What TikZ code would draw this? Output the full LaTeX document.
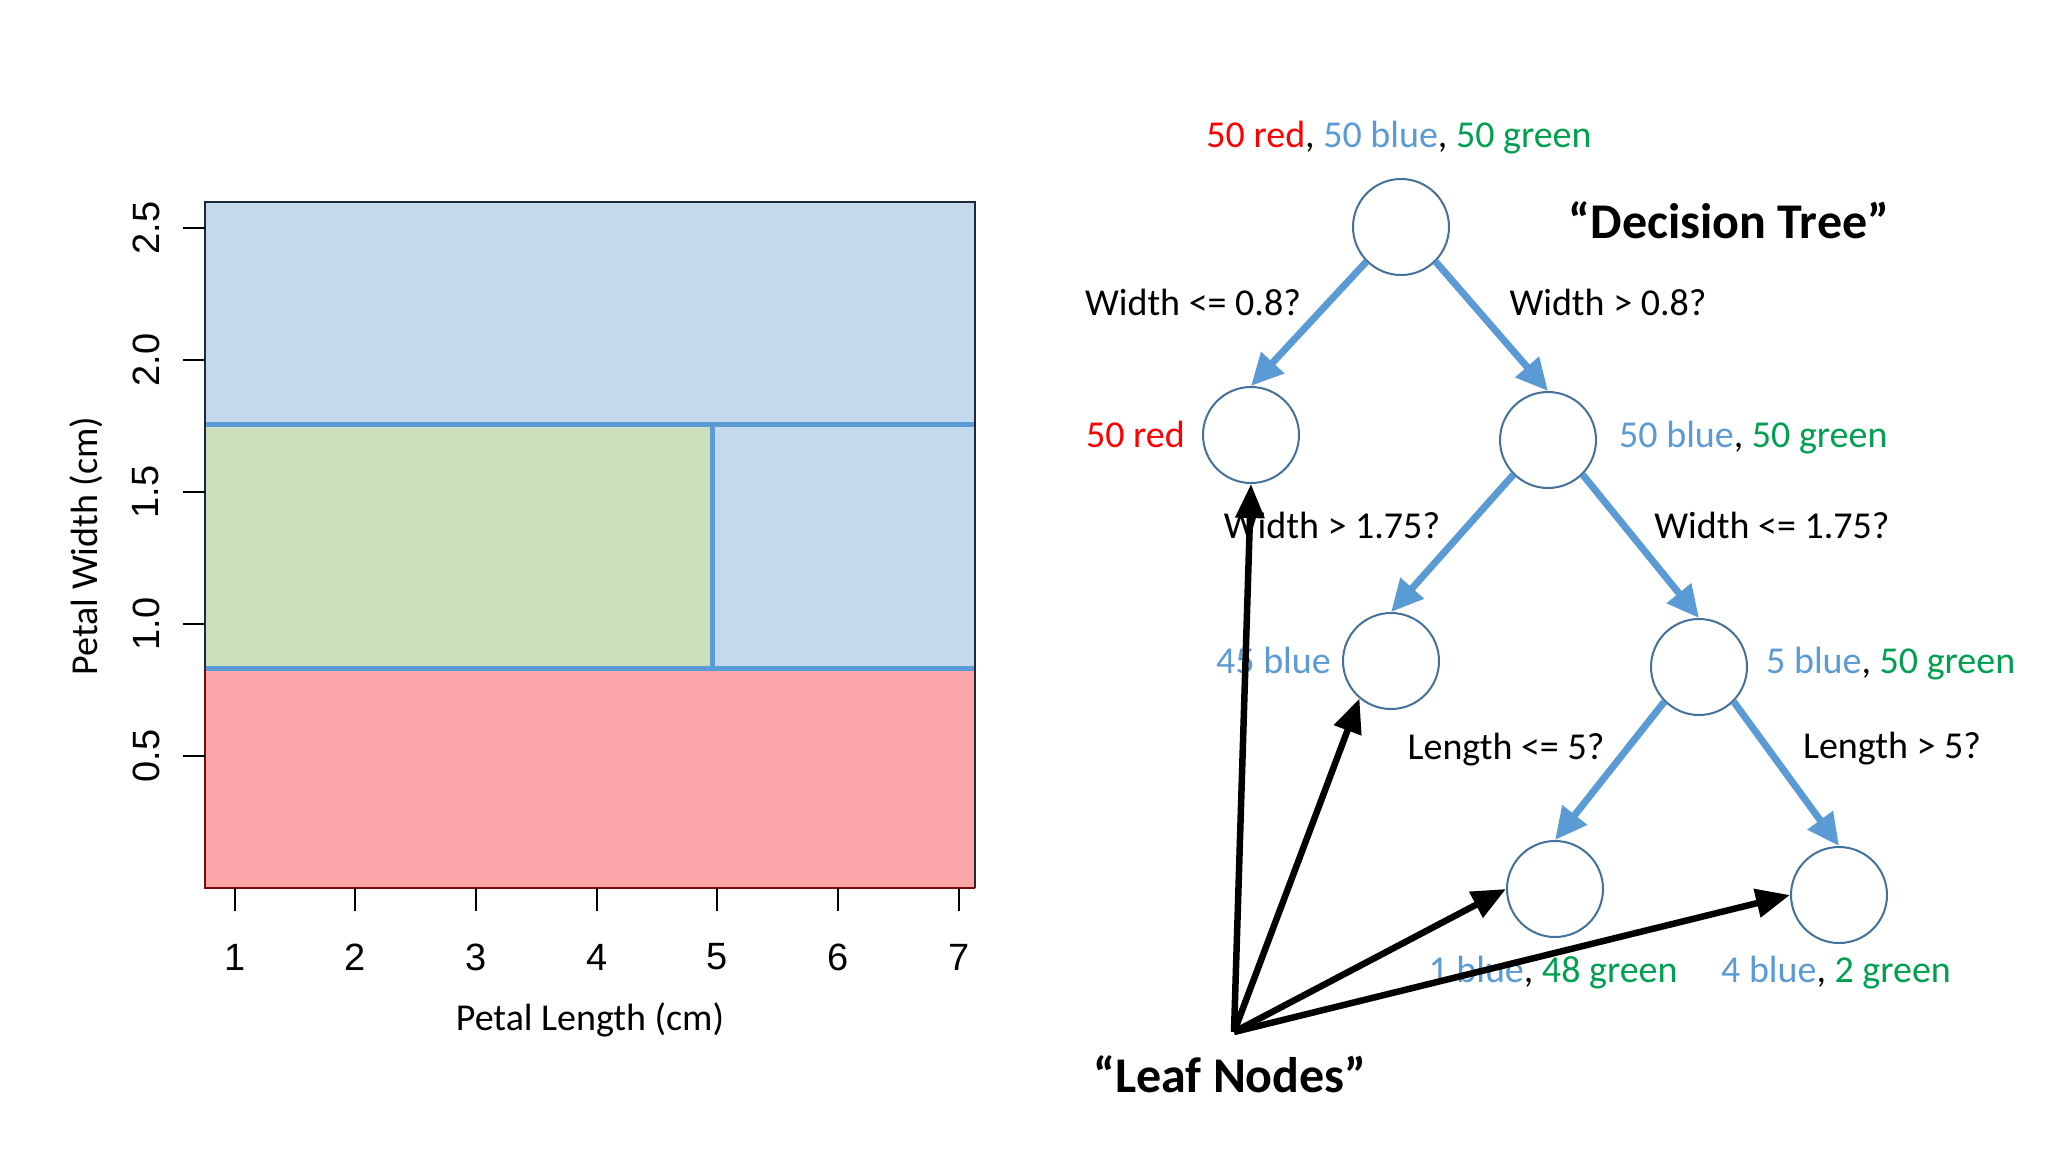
\documentclass[tikz,border=0pt]{standalone}
\usepackage{fontspec}
\setmainfont{Carlito}
\newfontfamily\axisfont{Liberation Sans}
\usetikzlibrary{arrows.meta}
\definecolor{tblue}{HTML}{5B9BD5}
\definecolor{tgreen}{HTML}{00A050}
\definecolor{tred}{HTML}{FF0000}
\definecolor{circ}{HTML}{41719C}
\definecolor{rblue}{HTML}{C5D9ED}
\definecolor{rgreen}{HTML}{CDE0BE}
\definecolor{rred}{HTML}{FBA5A8}
\definecolor{dred}{HTML}{7A0A0A}
\definecolor{framec}{HTML}{1E2A38}
\begin{document}
\begin{tikzpicture}[x=1pt,y=-1pt,
 lbl/.style={font=\fontsize{38}{46}\selectfont, inner sep=0pt, anchor=mid},
 big/.style={font=\fontsize{50}{60}\selectfont\bfseries, inner sep=0pt, anchor=mid},
 ticklbl/.style={font=\axisfont\fontsize{38}{46}\selectfont, inner sep=0pt},
 axlbl/.style={font=\fontsize{38}{46}\selectfont, inner sep=0pt},
 tnode/.style={circle, draw=circ, line width=2pt, fill=white, minimum size=96pt, inner sep=0pt},
 tedge/.style={draw=tblue, line width=7pt, -{Triangle[length=32pt,width=30pt]}},
 ledge/.style={draw=black, line width=6.5pt, -{Triangle[length=34pt,width=28pt]}},
 tickmark/.style={draw=black, line width=2pt}
]
\useasboundingbox (0,0) rectangle (2048,1152);
\fill[white] (0,0) rectangle (2048,1152);

% ---- partition plot ----
\fill[rblue] (205,202) rectangle (975,424);
\fill[rgreen] (205,424) rectangle (712,668);
\fill[rblue] (712,424) rectangle (975,668);
\fill[rred] (205,668) rectangle (975,888);
\draw[tblue, line width=5pt] (205,424) -- (975,424);
\draw[tblue, line width=5pt] (205,668) -- (975,668);
\draw[tblue, line width=5pt] (712,424) -- (712,668);
\draw[framec, line width=2pt] (205,668) -- (205,202) -- (975,202) -- (975,888);
\draw[dred, line width=2.5pt] (205,668) -- (205,888) -- (975,888);

\foreach \v/\yy/\n in {2.5/228/ya, 2.0/360/yb, 1.5/492/yc, 1.0/624/yd, 0.5/756/ye}{
  \draw[tickmark] (183,\yy) -- (205,\yy);
  \node[ticklbl, rotate=90] (\n) at (146,\yy) {\v};
}
\foreach \v/\xx in {1/235, 2/355, 3/476, 4/597, 5/717, 6/838, 7/959}{
  \draw[tickmark] (\xx,888) -- (\xx,911);
  \node[ticklbl] (x\v) at (\xx,957) {\v};
}
\node[axlbl, rotate=90] (ylab) at (86,546) {Petal Width (cm)};
\node[axlbl] (xlab) at (590,1020) {Petal Length (cm)};

% ---- decision tree ----
\node[tnode] (root) at (1401,227) {};
\node[tnode] (a) at (1251,435) {};
\node[tnode] (b) at (1548,440) {};
\node[tnode] (c) at (1391,661) {};
\node[tnode] (d) at (1699,667) {};
\node[tnode] (e) at (1555,889) {};
\node[tnode] (f) at (1839,895) {};

\draw[tedge] (root.south west) -- (a.north);
\draw[tedge] (root.south east) -- (b.north);
\draw[tedge] (b.south west) -- (c.north);
\draw[tedge] (b.south east) -- (d.north);
\draw[tedge] (d.south west) -- (e.north);
\draw[tedge] (d.south east) -- (f.north);

\node[lbl] (t0) at (1399,145) {\textcolor{tred}{50 red}, \textcolor{tblue}{50 blue}, \textcolor{tgreen}{50 green}};
\node[big] (dt) at (1729,236) {“Decision Tree”};
\node[lbl] (q1) at (1193,313) {Width <= 0.8?};
\node[lbl] (q2) at (1608,313) {Width > 0.8?};
\node[lbl, anchor=mid east, text=tred] (al) at (1185,445) {50 red};
\node[lbl, anchor=mid west] (bl) at (1619,445) {\textcolor{tblue}{50 blue}, \textcolor{tgreen}{50 green}};
\node[lbl] (q3) at (1332,536) {Width > 1.75?};
\node[lbl] (q4) at (1772,536) {Width <= 1.75?};
\node[lbl, anchor=mid east, text=tblue] (cl) at (1331,671) {45 blue};
\node[lbl, anchor=mid west] (dl) at (1766,671) {\textcolor{tblue}{5 blue}, \textcolor{tgreen}{50 green}};
\node[lbl] (q5) at (1506,757) {Length <= 5?};
\node[lbl] (q6) at (1892,756) {Length > 5?};
\node[lbl] (el) at (1553,980) {\textcolor{tblue}{1 blue}, \textcolor{tgreen}{48 green}};
\node[lbl] (fl) at (1836,980) {\textcolor{tblue}{4 blue}, \textcolor{tgreen}{2 green}};
\node[big] (leaf) at (1230,1090) {“Leaf Nodes”};

\coordinate (lf) at (1234,1032);
\draw[ledge] (lf) -- (a.south);
\draw[ledge] (lf) -- (c.-130);
\draw[ledge] (lf) -- (e.west);
\draw[ledge] (lf) -- (f.west);
\end{tikzpicture}
\end{document}
